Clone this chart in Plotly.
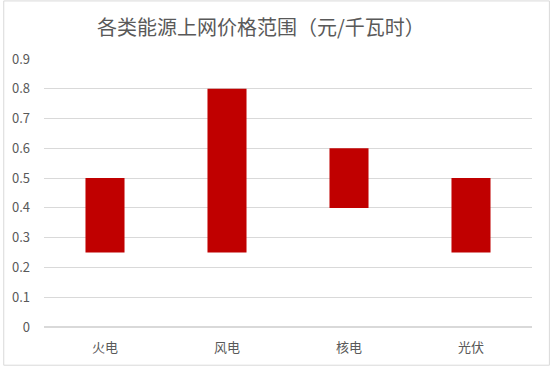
import plotly.graph_objects as go

categories = ["火电", "风电", "核电", "光伏"]
low = [0.25, 0.25, 0.40, 0.25]
high = [0.50, 0.80, 0.60, 0.50]
yticks = [0, 0.1, 0.2, 0.3, 0.4, 0.5, 0.6, 0.7, 0.8, 0.9]
title = "各类能源上网价格范围（元/千瓦时）"

W, H = 550, 368
ml, mr, mt, mb = 41, 18, 59, 39
pw, ph = W - ml - mr, H - mt - mb

fig = go.Figure()
fig.add_trace(go.Bar(
    x=categories,
    y=[h - l for h, l in zip(high, low)],
    base=low,
    marker=dict(color="#C00000", line=dict(width=0)),
    hoverinfo="skip",
))

fig.update_layout(
    width=W, height=H,
    margin=dict(l=ml, r=mr, t=mt, b=mb, pad=0),
    paper_bgcolor="white", plot_bgcolor="white",
    font=dict(family="Noto Sans CJK SC, Noto Sans, sans-serif", color="#595959", size=13),
    title=dict(text=title, xref="container", x=97 / W, xanchor="left",
               y=1 - 28 / H, yanchor="middle",
               font=dict(size=20, color="#595959")),
    bargap=0.68,
    showlegend=False,
    xaxis=dict(showgrid=False, showline=False, zeroline=False, ticks="",
               ticklabelstandoff=11, tickfont=dict(size=13, color="#595959")),
    yaxis=dict(range=[0, 0.9], tickvals=yticks, ticktext=[f"{v:g}" for v in yticks],
               showgrid=True, gridcolor="#D9D9D9", gridwidth=1,
               zeroline=True, zerolinecolor="#D9D9D9", showline=False,
               ticks="", ticklabelstandoff=13, tickfont=dict(size=13, color="#595959")),
    shapes=[dict(type="rect", xref="paper", yref="paper",
                 x0=-(ml - 0.5) / pw, x1=1 + (mr - 0.5) / pw,
                 y0=-(mb - 0.5) / ph, y1=1 + (mt - 0.5) / ph,
                 line=dict(color="#D9D9D9", width=1), fillcolor="rgba(0,0,0,0)", layer="below")],
)

fig.write_html("out.html")
